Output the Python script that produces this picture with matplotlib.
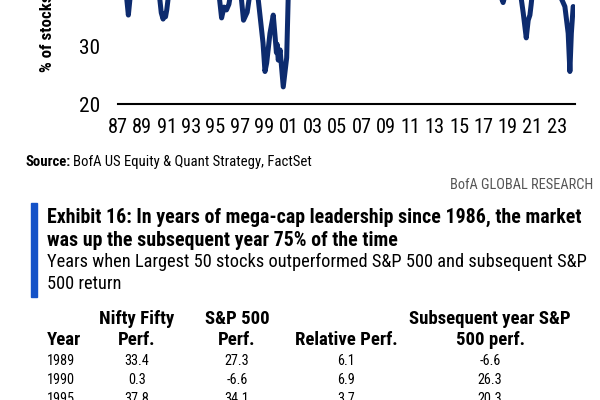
import matplotlib
matplotlib.use("Agg")
import matplotlib.pyplot as plt
from matplotlib.patches import Rectangle

# line series (only the lower part of the chart is visible in the crop)
yrs = [1987.0, 1987.6, 1987.85, 1988.1, 1989.0, 1990.3, 1990.55, 1990.7, 1990.8, 1990.9,
       1991.0, 1991.2, 1992.0, 1994.0, 1995.2, 1995.5, 1995.7, 1995.9, 1996.1, 1996.3,
       1996.8, 1997.1, 1997.3, 1997.6, 1997.8, 1998.3, 1998.5, 1998.9, 1999.06, 1999.2,
       1999.47, 1999.74, 1999.88, 2000.0, 2000.05, 2000.15, 2000.3, 2000.56, 2000.84, 2000.97,
       2002.0, 2005.0, 2010.0, 2015.0, 2018.3, 2018.5, 2018.6, 2018.7, 2019.2, 2019.9,
       2020.1, 2020.25, 2020.5, 2020.66, 2020.8, 2020.9, 2021.0, 2022.0, 2023.2, 2023.4,
       2023.67, 2023.94, 2024.08, 2024.2, 2024.35]
pct = [44, 41, 35.6, 41, 44, 41, 36.0, 34.9, 35.8, 35.3,
       36.5, 40, 45, 46, 41, 35.1, 37.0, 36.5, 37.5, 40,
       41, 39, 34.7, 36.1, 39, 41, 38.5, 30.7, 25.7, 27.2,
       32.4, 35.6, 32.1, 29.0, 30.5, 27.7, 29.5, 23.0, 28.1, 39,
       45, 50, 48, 46, 41, 38.4, 37.8, 38.6, 42, 40,
       38.3, 36.0, 31.6, 34.7, 35.6, 37.4, 39.5, 44, 41, 38.4,
       37.1, 32.4, 25.7, 32.4, 37.1]

xtick_years = list(range(1987, 2024, 2))
ytick_vals = [20, 30, 40]

# table
head_top = ["", "Nifty Fifty", "S&P 500", "", "Subsequent year S&P"]
head_bot = ["Year", "Perf.", "Perf.", "Relative Perf.", "500 perf."]
tbl_years = ["1989", "1990", "1995"]
nifty = ["33.4", "0.3", "37.8"]
spx = ["27.3", "-6.6", "34.1"]
rel = ["6.1", "6.9", "3.7"]
nxt = ["-6.6", "26.3", "20.3"]

W, H = 600, 400
fig = plt.figure(figsize=(6, 4), dpi=100)
rend = fig.canvas.get_renderer()

def fx(px):
    return px / W

def fy(py):
    return 1 - py / H

# condensed face if there is one, else Roboto
cond = ["Liberation Sans Narrow", "Roboto Condensed", "DejaVu Sans Condensed", "Roboto", "DejaVu Sans"]

def fit(s, target, rot=0, **kw):
    # font size that makes s about target px long
    t = fig.text(0, 0, s, fontsize=10, rotation=rot, family=cond, **kw)
    bb = t.get_window_extent(renderer=rend)
    t.remove()
    w = bb.height if rot else bb.width
    return 10 * target / w

# chart axes, extends above the top of the figure
ax = fig.add_axes([fx(118), fy(104), fx(575) - fx(118), 171 / H])
ax.plot(yrs, pct, color="#0d2b6e", lw=3.6, solid_joinstyle="round", solid_capstyle="round")
ax.set_xlim(1987, 2024.5)
ax.set_ylim(20, 50)
for s in ["top", "right", "left"]:
    ax.spines[s].set_visible(False)
ax.spines["bottom"].set_linewidth(1.5)
ax.set_xticks(xtick_years)
ax.set_xticklabels([str(y)[2:] for y in xtick_years], family=cond, fontsize=fit("87", 20))
ax.set_yticks(ytick_vals)
ax.set_yticklabels([str(v) for v in ytick_vals], family=cond, fontsize=fit("30", 21))
ax.tick_params(length=0)
ax.tick_params(axis="x", pad=10)
ax.tick_params(axis="y", pad=13)

fig.text(fx(47), fy(72), "% of stocks", rotation=90, ha="center", va="bottom",
         family=cond, fontweight="bold", fontsize=fit("% of stock", 70, rot=90, fontweight="bold"))

# source line
src_fs = fit("Source: BofA US Equity & Quant Strategy, FactSet", 285)
t = fig.text(fx(25), fy(162), "Source:", family=cond, fontweight="bold", fontsize=src_fs, va="center")
bb = t.get_window_extent(renderer=rend)
fig.text(fx(bb.x1 + 3), fy(162), "BofA US Equity & Quant Strategy, FactSet",
         family=cond, fontsize=src_fs, va="center")
fig.text(fx(593), fy(185), "BofA GLOBAL RESEARCH", family=cond,
         fontsize=fit("BofA GLOBAL RESEARCH", 144),
         color="#555555", ha="right", va="center")

# exhibit title
fig.patches.append(Rectangle((fx(31), fy(297)), fx(6), (297 - 203) / H,
                             transform=fig.transFigure, color="#1452c8"))
title1 = "Exhibit 16: In years of mega-cap leadership since 1986, the market"
ttl_fs = fit(title1, 535, fontweight="bold")
fig.text(fx(47), fy(217), title1, family=cond, fontweight="bold", fontsize=ttl_fs, va="center")
fig.text(fx(47), fy(240), "was up the subsequent year 75% of the time",
         family=cond, fontweight="bold", fontsize=ttl_fs, va="center")
sub1 = "Years when Largest 50 stocks outperformed S&P 500 and subsequent S&P"
sub_fs = fit(sub1, 535)
fig.text(fx(47), fy(262), sub1, family=cond, fontsize=sub_fs, va="center")
fig.text(fx(47), fy(284), "500 return", family=cond, fontsize=sub_fs, va="center")

# table
col_x = [47, 137, 237, 346, 490]
hd_fs = fit("Subsequent year S&P", 161, fontweight="bold")
for i in range(len(col_x)):
    ha = "left" if i == 0 else "center"
    fig.text(fx(col_x[i]), fy(319), head_top[i], family=cond, fontweight="bold",
             fontsize=hd_fs, ha=ha, va="center")
    fig.text(fx(col_x[i]), fy(340), head_bot[i], family=cond, fontweight="bold",
             fontsize=hd_fs, ha=ha, va="center")

row_fs = fit("1989", 28)
row_y = [361, 380, 399]
for r in range(len(tbl_years)):
    vals = [tbl_years[r], nifty[r], spx[r], rel[r], nxt[r]]
    for i, v in enumerate(vals):
        ha = "left" if i == 0 else "center"
        fig.text(fx(col_x[i]), fy(row_y[r]), v, family=cond, fontsize=row_fs, ha=ha, va="center")

fig.savefig("out.png", dpi=100)
